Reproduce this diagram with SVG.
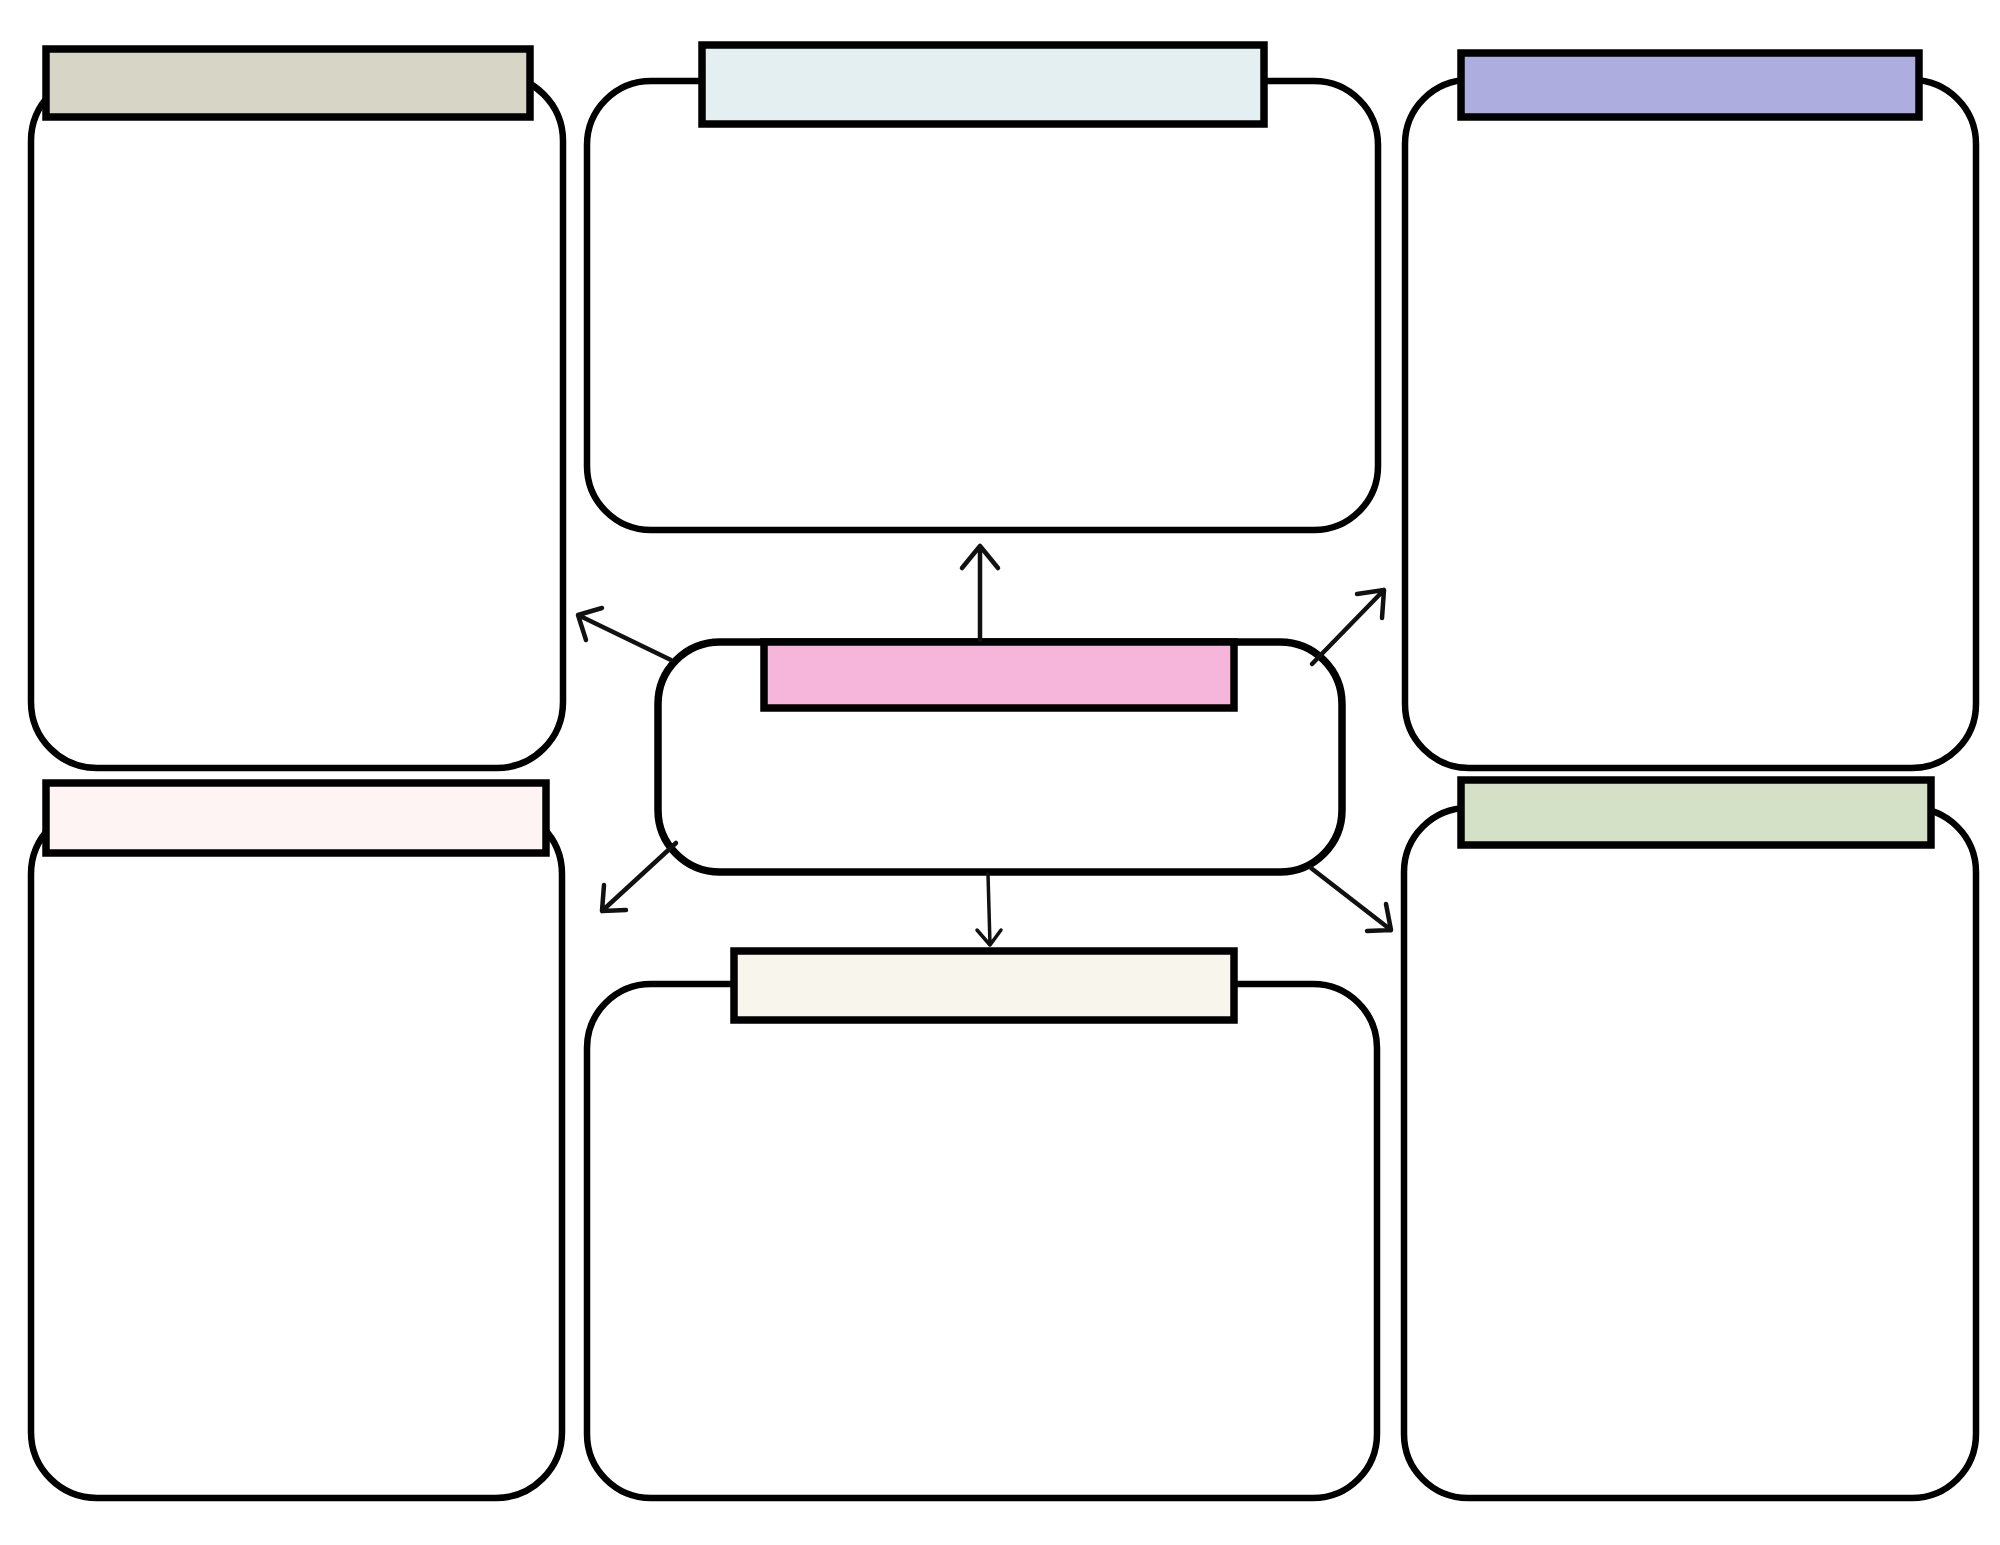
<svg xmlns="http://www.w3.org/2000/svg" width="2000" height="1545" viewBox="0 0 2000 1545">
<style>
.box{fill:#ffffff;stroke:#000;stroke-width:6.5}
.cbox{fill:#ffffff;stroke:#000;stroke-width:7.5}
.lbl{stroke:#000;stroke-width:7.5}
.arr{fill:none;stroke:#111;stroke-width:4.5;stroke-linecap:round;stroke-linejoin:round}
.arr-thin{fill:none;stroke:#111;stroke-width:3.5;stroke-linecap:round;stroke-linejoin:round}
</style>
<rect width="2000" height="1545" fill="#ffffff"/>
<g id="node-top-left">
<rect class="box" x="31" y="75" width="532" height="693" rx="66" ry="66"/>
<rect class="lbl" x="46" y="49" width="484" height="68" fill="#D7D5C5"/>
</g>
<g id="node-top-middle">
<rect class="box" x="587" y="81" width="791" height="449" rx="64" ry="64"/>
<rect class="lbl" x="702" y="45" width="562" height="79" fill="#E3EFF0"/>
</g>
<g id="node-top-right">
<rect class="box" x="1405" y="80" width="571" height="688" rx="64" ry="64"/>
<rect class="lbl" x="1461" y="53" width="458" height="64" fill="#ADADDF"/>
</g>
<g id="node-bottom-left">
<rect class="box" x="31" y="808" width="531" height="690" rx="66" ry="66"/>
<rect class="lbl" x="46" y="783" width="500" height="70" fill="#FEF4F4"/>
</g>
<g id="node-bottom-middle">
<rect class="box" x="587" y="984" width="790" height="514" rx="64" ry="64"/>
<rect class="lbl" x="734" y="951" width="500" height="69" fill="#F7F5EC"/>
</g>
<g id="node-bottom-right">
<rect class="box" x="1404" y="808" width="572" height="690" rx="64" ry="64"/>
<rect class="lbl" x="1461" y="780" width="470" height="65" fill="#D4E1C6"/>
</g>
<g id="node-center">
<rect class="cbox" x="658" y="642" width="684" height="230" rx="62" ry="62"/>
<rect class="lbl" x="764" y="642" width="470" height="66" fill="#F6B6DC"/>
</g>
<g id="connectors">
<path class="arr" d="M980 640 L980 546 M962 568 L980 546 L998 568"/>
<path class="arr" d="M671 660 L578 615 M602 608 L578 615 L586 640"/>
<path class="arr" d="M1312 664 L1384 590 M1357 594 L1384 590 L1382 618"/>
<path class="arr" d="M676 843 L602 911 M604 885 L602 911 L626 910"/>
<path class="arr-thin" d="M988 874 L990 945 M977 930 L990 945 L1001 930"/>
<path class="arr" d="M1311 868 L1391 930 M1386 904 L1391 930 L1367 931"/>
</g>
</svg>
